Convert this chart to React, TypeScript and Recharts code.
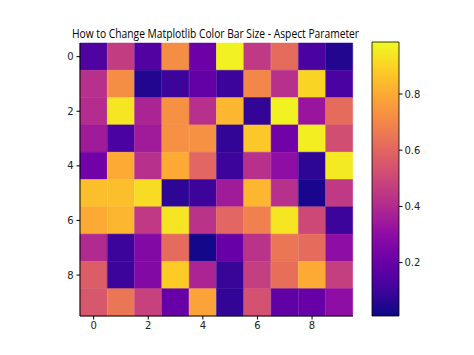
import React from "react";
import { BarChart, Bar, XAxis, YAxis, Cell } from "recharts";

const columns = [0, 1, 2, 3, 4, 5, 6, 7, 8, 9];
const row0 = [0.14, 0.46, 0.15, 0.72, 0.21, 0.97, 0.45, 0.62, 0.13, 0.05];
const row1 = [0.42, 0.72, 0.05, 0.1, 0.19, 0.1, 0.7, 0.42, 0.9, 0.13];
const row2 = [0.41, 0.94, 0.38, 0.73, 0.42, 0.83, 0.08, 0.97, 0.33, 0.62];
const row3 = [0.35, 0.13, 0.35, 0.73, 0.73, 0.08, 0.87, 0.22, 0.96, 0.52];
const row4 = [0.22, 0.8, 0.42, 0.8, 0.6, 0.1, 0.42, 0.3, 0.07, 0.95];
const row5 = [0.85, 0.85, 0.92, 0.07, 0.1, 0.35, 0.83, 0.42, 0.03, 0.45];
const row6 = [0.8, 0.83, 0.45, 0.94, 0.43, 0.6, 0.68, 0.94, 0.5, 0.1];
const row7 = [0.4, 0.1, 0.27, 0.62, 0.02, 0.2, 0.43, 0.65, 0.62, 0.3];
const row8 = [0.57, 0.1, 0.27, 0.88, 0.38, 0.09, 0.47, 0.63, 0.8, 0.47];
const row9 = [0.55, 0.65, 0.48, 0.2, 0.78, 0.08, 0.53, 0.18, 0.2, 0.3];
const grid = [row0, row1, row2, row3, row4, row5, row6, row7, row8, row9];

const rowTicks = [0.5, 2.5, 4.5, 6.5, 8.5];
const colorbarTicks = [0.2, 0.4, 0.6, 0.8];
const vmin = 0.01;
const vmax = 0.985;
const title = "How to Change Matplotlib Color Bar Size - Aspect Parameter";

const plasma = [
  "#0d0887", "#41049d", "#6a00a8", "#8f0da4", "#b12a90", "#cc4778",
  "#e16462", "#f2844b", "#fca636", "#fcce25", "#f0f921",
];

function hexToRgb(h: string) {
  return [parseInt(h.slice(1, 3), 16), parseInt(h.slice(3, 5), 16), parseInt(h.slice(5, 7), 16)];
}
function colorFor(v: number) {
  let t = (v - vmin) / (vmax - vmin);
  t = Math.max(0, Math.min(1, t));
  const p = t * (plasma.length - 1);
  const i = Math.min(plasma.length - 2, Math.floor(p));
  const f = p - i;
  const a = hexToRgb(plasma[i]);
  const b = hexToRgb(plasma[i + 1]);
  const c = a.map((x, k) => Math.round(x + (b[k] - x) * f));
  return `rgb(${c[0]},${c[1]},${c[2]})`;
}

const heatData = columns.map((c) => {
  const o: Record<string, number> = { x: c };
  grid.forEach((_, r) => (o[`r${r}`] = 1));
  return o;
});
const barData = [{ name: "cb", range: [vmin, vmax] }];

const font = "'DejaVu Sans', sans-serif";
const tickStyle = { fontSize: 10, fill: "#222", fontFamily: font };

export default function App() {
  return (
    <div style={{ position: "absolute", left: 0, top: 0, width: 474, height: 355, background: "#fff" }}>
      <div style={{ position: "absolute", left: 0, top: 0 }}>
        <BarChart
          width={474}
          height={355}
          data={heatData}
          margin={{ top: 43, right: 121, bottom: 9, left: 0 }}
          barCategoryGap={0}
          barGap={0}
        >
          <XAxis
            dataKey="x"
            interval={1}
            tick={tickStyle}
            tickSize={3.5}
            tickMargin={2}
            height={30}
            stroke="#000"
          />
          <XAxis xAxisId="top" dataKey="x" orientation="top" tick={false} tickLine={false} height={0} stroke="#000" />
          <YAxis
            type="number"
            domain={[0, 10]}
            reversed
            ticks={rowTicks}
            tickFormatter={(v: number) => String(v - 0.5)}
            tick={tickStyle}
            tickSize={3.5}
            tickMargin={3}
            width={80}
            stroke="#000"
          />
          <YAxis yAxisId="right" orientation="right" type="number" domain={[0, 10]} tick={false} tickLine={false} width={0} stroke="#000" />
          {grid.map((row, r) => (
            <Bar key={r} dataKey={`r${r}`} stackId="s" isAnimationActive={false}>
              {row.map((v, i) => (
                <Cell key={i} fill={colorFor(v)} stroke={colorFor(v)} strokeWidth={0.5} />
              ))}
            </Bar>
          ))}
        </BarChart>
      </div>
      <div style={{ position: "absolute", left: 0, top: 0 }}>
        <BarChart
          width={474}
          height={355}
          data={barData}
          margin={{ top: 42, right: 35, bottom: 39, left: 372 }}
          barCategoryGap={0}
        >
          <defs>
            <linearGradient id="plasmaGrad" x1="0" y1="1" x2="0" y2="0">
              {plasma.map((c, i) => (
                <stop key={i} offset={`${(i / (plasma.length - 1)) * 100}%`} stopColor={c} />
              ))}
            </linearGradient>
          </defs>
          <XAxis dataKey="name" hide />
          <YAxis
            type="number"
            orientation="right"
            domain={[vmin, vmax]}
            ticks={colorbarTicks}
            tick={tickStyle}
            tickSize={3.5}
            tickMargin={2}
            width={40}
            axisLine={false}
            stroke="#000"
          />
          <Bar dataKey="range" fill="url(#plasmaGrad)" stroke="#000" strokeWidth={0.8} isAnimationActive={false} />
        </BarChart>
      </div>
      <svg width={474} height={355} style={{ position: "absolute", left: 0, top: 0, pointerEvents: "none" }}>
        <text
          x={215.5}
          y={38}
          textAnchor="middle"
          fontSize={12}
          fontFamily="'Open Sans', sans-serif"
          fill="#000"
          textLength={287}
          lengthAdjust="spacingAndGlyphs"
        >
          {title}
        </text>
      </svg>
    </div>
  );
}
